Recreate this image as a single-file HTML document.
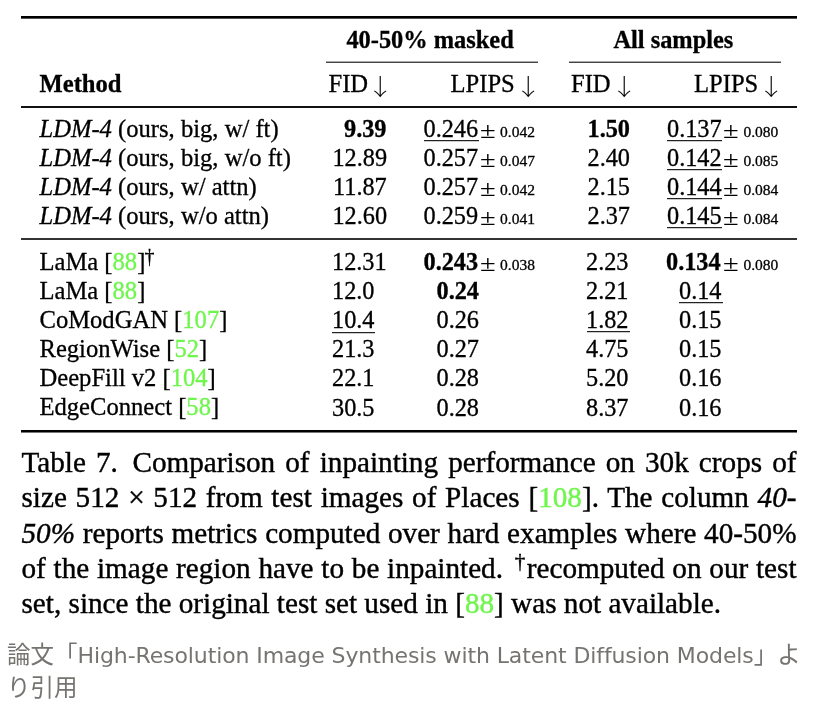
<!DOCTYPE html>
<html><head><meta charset="utf-8"><style>
html,body{margin:0;padding:0;background:#fff;}
body{width:826px;height:712px;position:relative;overflow:hidden;font-family:"Liberation Serif","Times New Roman",serif;color:#000;}
.t{position:absolute;white-space:nowrap;line-height:30px;font-size:24.60px;-webkit-text-stroke:0.3px #000;}
.g{color:#6ef64c;-webkit-text-stroke-color:#6ef64c;}
.pmc{display:inline-block;transform:scale(1.16,0.96);transform-origin:0 21px;-webkit-text-stroke:0;}
.dg{font-size:20px;vertical-align:7px;line-height:0;margin-left:-0.8px;}
.dg2{font-size:21px;vertical-align:10px;line-height:0;margin-right:1px;}
.r{position:absolute;}
.ar{position:absolute;font-family:"Noto Serif CJK SC",serif;font-size:23.0px;line-height:30px;transform:scaleX(1.13);transform-origin:6px 0;}
.c{position:absolute;white-space:nowrap;line-height:36px;font-size:29.20px;text-align:justify;-webkit-text-stroke:0.4px #000;}
.c.j{text-align-last:justify;}
.jp{position:absolute;left:7px;white-space:nowrap;font-family:"DejaVu Sans","Noto Sans CJK JP",sans-serif;color:#767470;font-size:22px;line-height:33px;letter-spacing:-0.105px;}
.k{font-size:23.5px;letter-spacing:0;}
</style></head><body>

<div class="r" style="left:21.0px;top:16px;width:775.5px;height:2px;background:#000"></div>
<div class="r" style="left:21.0px;top:18px;width:775.5px;height:1px;background:#555"></div>
<div class="r" style="left:326.0px;top:61px;width:211.5px;height:1px;background:#aaa"></div>
<div class="r" style="left:326.0px;top:62px;width:211.5px;height:1px;background:#444"></div>
<div class="r" style="left:568.5px;top:61px;width:212.0px;height:1px;background:#aaa"></div>
<div class="r" style="left:568.5px;top:62px;width:212.0px;height:1px;background:#444"></div>
<div class="r" style="left:21.0px;top:106px;width:775.5px;height:2px;background:#111"></div>
<div class="r" style="left:21.0px;top:238px;width:775.5px;height:2px;background:#333"></div>
<div class="r" style="left:21.0px;top:430px;width:775.5px;height:2px;background:#000"></div>
<div class="r" style="left:21.0px;top:432px;width:775.5px;height:1px;background:#777"></div>
<div class="r" style="left:423.5px;top:140px;width:55.2px;height:1px;background:#222"></div>
<div class="r" style="left:423.5px;top:141px;width:55.2px;height:1px;background:#ccc"></div>
<div class="r" style="left:667.0px;top:140px;width:55.1px;height:1px;background:#222"></div>
<div class="r" style="left:667.0px;top:141px;width:55.1px;height:1px;background:#ccc"></div>
<div class="r" style="left:667.0px;top:169px;width:55.1px;height:1px;background:#222"></div>
<div class="r" style="left:667.0px;top:170px;width:55.1px;height:1px;background:#ccc"></div>
<div class="r" style="left:667.0px;top:198px;width:55.1px;height:1px;background:#222"></div>
<div class="r" style="left:667.0px;top:199px;width:55.1px;height:1px;background:#ccc"></div>
<div class="r" style="left:667.0px;top:227px;width:55.1px;height:1px;background:#222"></div>
<div class="r" style="left:667.0px;top:228px;width:55.1px;height:1px;background:#ccc"></div>
<div class="r" style="left:331.6px;top:332px;width:43.6px;height:1px;background:#222"></div>
<div class="r" style="left:331.6px;top:333px;width:43.6px;height:1px;background:#ccc"></div>
<div class="r" style="left:587.4px;top:331px;width:43.0px;height:1px;background:#222"></div>
<div class="r" style="left:587.4px;top:332px;width:43.0px;height:1px;background:#ccc"></div>
<div class="r" style="left:679.4px;top:302px;width:43.6px;height:1px;background:#222"></div>
<div class="r" style="left:679.4px;top:303px;width:43.6px;height:1px;background:#ccc"></div>
<div class="t" id="h4050" style="left:346.40px;top:25.27px;font-size:24.40px;"><b>40-50<span class="pc">%</span> masked</b></div>
<div class="t" id="hall" style="left:613.40px;top:25.27px;font-size:24.40px;"><b>All samples</b></div>
<div class="t" id="hmeth" style="left:39.50px;top:69.20px;"><b>Method</b></div>
<div class="t" id="hfid1" style="left:328.50px;top:69.20px;">FID</div>
<div class="t" id="hlp1" style="left:450.50px;top:69.20px;">LPIPS</div>
<div class="t" id="hfid2" style="left:571.00px;top:69.20px;">FID</div>
<div class="t" id="hlp2" style="left:694.00px;top:69.20px;">LPIPS</div>
<div class="t" id="m0" style="left:39.50px;top:113.70px;"><i>LDM-4</i> (ours, big, w/ ft)</div>
<div class="t" id="f1_0" style="left:344.00px;top:113.80px;font-size:24.30px;"><b>9.39</b></div>
<div class="t" id="l1_0" style="left:423.50px;top:113.80px;font-size:24.30px;">0.246</div>
<div class="t pmc" id="l1_0p" style="left:479.70px;top:114.70px;">&plusmn;</div>
<div class="t" id="l1_0s" style="left:500.00px;top:116.77px;font-size:15.50px;">0.042</div>
<div class="t" id="f2_0" style="left:587.50px;top:113.80px;font-size:24.30px;"><b>1.50</b></div>
<div class="t" id="l2_0" style="left:667.00px;top:113.80px;font-size:24.30px;">0.137</div>
<div class="t pmc" id="l2_0p" style="left:723.00px;top:114.70px;">&plusmn;</div>
<div class="t" id="l2_0s" style="left:743.40px;top:116.77px;font-size:15.50px;">0.080</div>
<div class="t" id="m1" style="left:39.50px;top:142.70px;"><i>LDM-4</i> (ours, big, w/o ft)</div>
<div class="t" id="f1_1" style="left:332.40px;top:142.80px;font-size:24.30px;">12.89</div>
<div class="t" id="l1_1" style="left:423.50px;top:142.80px;font-size:24.30px;">0.257</div>
<div class="t pmc" id="l1_1p" style="left:479.70px;top:143.70px;">&plusmn;</div>
<div class="t" id="l1_1s" style="left:500.00px;top:145.77px;font-size:15.50px;">0.047</div>
<div class="t" id="f2_1" style="left:587.50px;top:142.80px;font-size:24.30px;">2.40</div>
<div class="t" id="l2_1" style="left:667.00px;top:142.80px;font-size:24.30px;">0.142</div>
<div class="t pmc" id="l2_1p" style="left:723.00px;top:143.70px;">&plusmn;</div>
<div class="t" id="l2_1s" style="left:743.40px;top:145.77px;font-size:15.50px;">0.085</div>
<div class="t" id="m2" style="left:39.50px;top:171.70px;"><i>LDM-4</i> (ours, w/ attn)</div>
<div class="t" id="f1_2" style="left:333.00px;top:171.80px;font-size:24.30px;">11.87</div>
<div class="t" id="l1_2" style="left:423.50px;top:171.80px;font-size:24.30px;">0.257</div>
<div class="t pmc" id="l1_2p" style="left:479.70px;top:172.70px;">&plusmn;</div>
<div class="t" id="l1_2s" style="left:500.00px;top:174.77px;font-size:15.50px;">0.042</div>
<div class="t" id="f2_2" style="left:587.50px;top:171.80px;font-size:24.30px;">2.15</div>
<div class="t" id="l2_2" style="left:667.00px;top:171.80px;font-size:24.30px;">0.144</div>
<div class="t pmc" id="l2_2p" style="left:723.00px;top:172.70px;">&plusmn;</div>
<div class="t" id="l2_2s" style="left:743.40px;top:174.77px;font-size:15.50px;">0.084</div>
<div class="t" id="m3" style="left:39.50px;top:200.70px;"><i>LDM-4</i> (ours, w/o attn)</div>
<div class="t" id="f1_3" style="left:332.40px;top:200.80px;font-size:24.30px;">12.60</div>
<div class="t" id="l1_3" style="left:423.50px;top:200.80px;font-size:24.30px;">0.259</div>
<div class="t pmc" id="l1_3p" style="left:479.70px;top:201.70px;">&plusmn;</div>
<div class="t" id="l1_3s" style="left:500.00px;top:203.77px;font-size:15.50px;">0.041</div>
<div class="t" id="f2_3" style="left:587.50px;top:200.80px;font-size:24.30px;">2.37</div>
<div class="t" id="l2_3" style="left:667.00px;top:200.80px;font-size:24.30px;">0.145</div>
<div class="t pmc" id="l2_3p" style="left:723.00px;top:201.70px;">&plusmn;</div>
<div class="t" id="l2_3s" style="left:743.40px;top:203.77px;font-size:15.50px;">0.084</div>
<div class="t" id="n0" style="left:39.50px;top:246.90px;">LaMa [<span class="g">88</span>]<sup class="dg">&dagger;</sup></div>
<div class="t" id="g1_0" style="left:332.00px;top:247.00px;font-size:24.30px;">12.31</div>
<div class="t" id="g2_0" style="left:586.00px;top:247.00px;font-size:24.30px;">2.23</div>
<div class="t" id="k1_0" style="left:423.50px;top:247.00px;font-size:24.30px;"><b>0.243</b></div>
<div class="t pmc" id="k1_0p" style="left:479.70px;top:247.90px;">&plusmn;</div>
<div class="t" id="k1_0s" style="left:500.00px;top:249.97px;font-size:15.50px;">0.038</div>
<div class="t" id="k2_0" style="left:666.00px;top:247.00px;font-size:24.30px;"><b>0.134</b></div>
<div class="t pmc" id="k2_0p" style="left:723.00px;top:247.90px;">&plusmn;</div>
<div class="t" id="k2_0s" style="left:743.40px;top:249.97px;font-size:15.50px;">0.080</div>
<div class="t" id="n1" style="left:39.50px;top:276.00px;">LaMa [<span class="g">88</span>]</div>
<div class="t" id="g1_1" style="left:332.00px;top:276.10px;font-size:24.30px;">12.0</div>
<div class="t" id="g2_1" style="left:586.00px;top:276.10px;font-size:24.30px;">2.21</div>
<div class="t" id="k1_1" style="left:436.50px;top:276.10px;font-size:24.30px;"><b>0.24</b></div>
<div class="t" id="k2_1" style="left:679.00px;top:276.10px;font-size:24.30px;">0.14</div>
<div class="t" id="n2" style="left:39.50px;top:305.10px;">CoModGAN [<span class="g">107</span>]</div>
<div class="t" id="g1_2" style="left:332.00px;top:305.20px;font-size:24.30px;">10.4</div>
<div class="t" id="g2_2" style="left:586.00px;top:305.20px;font-size:24.30px;">1.82</div>
<div class="t" id="k1_2" style="left:436.50px;top:305.20px;font-size:24.30px;">0.26</div>
<div class="t" id="k2_2" style="left:679.00px;top:305.20px;font-size:24.30px;">0.15</div>
<div class="t" id="n3" style="left:39.50px;top:334.20px;">RegionWise [<span class="g">52</span>]</div>
<div class="t" id="g1_3" style="left:332.00px;top:334.30px;font-size:24.30px;">21.3</div>
<div class="t" id="g2_3" style="left:586.00px;top:334.30px;font-size:24.30px;">4.75</div>
<div class="t" id="k1_3" style="left:436.50px;top:334.30px;font-size:24.30px;">0.27</div>
<div class="t" id="k2_3" style="left:679.00px;top:334.30px;font-size:24.30px;">0.15</div>
<div class="t" id="n4" style="left:39.50px;top:363.30px;">DeepFill v2 [<span class="g">104</span>]</div>
<div class="t" id="g1_4" style="left:332.00px;top:363.40px;font-size:24.30px;">22.1</div>
<div class="t" id="g2_4" style="left:586.00px;top:363.40px;font-size:24.30px;">5.20</div>
<div class="t" id="k1_4" style="left:436.50px;top:363.40px;font-size:24.30px;">0.28</div>
<div class="t" id="k2_4" style="left:679.00px;top:363.40px;font-size:24.30px;">0.16</div>
<div class="t" id="n5" style="left:39.50px;top:392.40px;">EdgeConnect [<span class="g">58</span>]</div>
<div class="t" id="g1_5" style="left:332.00px;top:392.50px;font-size:24.30px;">30.5</div>
<div class="t" id="g2_5" style="left:586.00px;top:392.50px;font-size:24.30px;">8.37</div>
<div class="t" id="k1_5" style="left:436.50px;top:392.50px;font-size:24.30px;">0.28</div>
<div class="t" id="k2_5" style="left:679.00px;top:392.50px;font-size:24.30px;">0.16</div>
<div class="ar" id="ar0" style="left:368.05px;top:71.20px;">&darr;</div>
<div class="ar" id="ar1" style="left:515.55px;top:71.20px;">&darr;</div>
<div class="ar" id="ar2" style="left:611.75px;top:71.20px;">&darr;</div>
<div class="ar" id="ar3" style="left:759.15px;top:71.20px;">&darr;</div>
<div class="c j" id="c0" style="left:21.5px;top:443.95px;width:775px;">Table 7.&ensp;Comparison of inpainting performance on 30k crops of</div>
<div class="c j" id="c1" style="left:21.5px;top:479.25px;width:775px;">size 512 &times; 512 from test images of Places [<span class="g">108</span>]. The column <i>40-</i></div>
<div class="c j" id="c2" style="left:21.5px;top:514.55px;width:775px;"><i>50%</i> reports metrics computed over hard examples where 40-50%</div>
<div class="c j" id="c3" style="left:21.5px;top:549.85px;width:775px;">of the image region have to be inpainted.<span style="margin-right:4px"></span> <sup class="dg2">&dagger;</sup>recomputed on our test</div>
<div class="c" id="c4" style="left:21.5px;top:585.15px;width:775px;">set, since the original test set used in [<span class="g">88</span>] was not available.</div>
<div class="jp" id="jp" style="top:638.80px"><span class="k">論文「</span>High-Resolution Image Synthesis with Latent Diffusion Models<span class="k">」よ</span><br><span class="k">り引用</span></div>
</body></html>
